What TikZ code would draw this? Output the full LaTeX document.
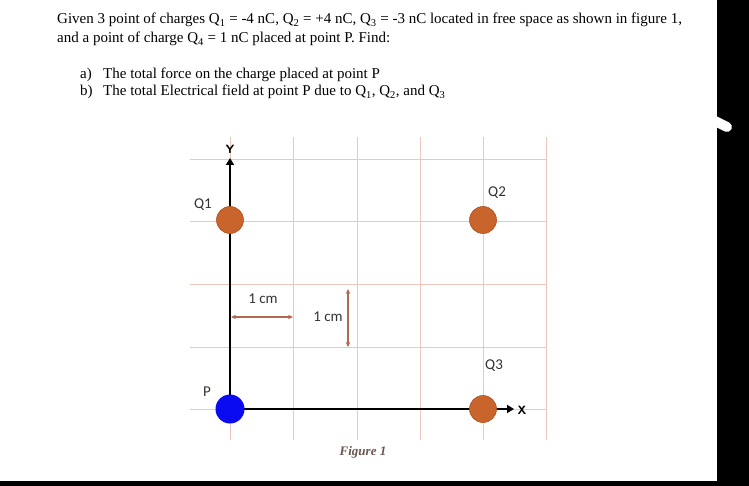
\documentclass[tikz,border=0pt]{standalone}
\usepackage{fontspec}
\setmainfont{Liberation Serif}
\newfontfamily\lblfont{Carlito}
\usetikzlibrary{arrows.meta}
\definecolor{gridc}{HTML}{EDC6BE}
\definecolor{chargec}{HTML}{C8642C}
\definecolor{chargeedge}{HTML}{B0521E}
\definecolor{pblue}{HTML}{0B0BF2}
\definecolor{dimc}{HTML}{B06A50}
\definecolor{figc}{HTML}{6A5650}
\tikzset{
  txt/.style={anchor=base west, inner sep=0pt, font=\fontsize{15}{17}\selectfont},
  gridline/.style={draw=gridc, line width=0.9pt},
  axis/.style={draw=black, line width=2.8pt},
  charge/.style={circle, fill=chargec, draw=chargeedge, line width=0.6pt, minimum size=27pt, inner sep=0pt},
  pcharge/.style={circle, fill=pblue, minimum size=29pt, inner sep=0pt},
  lbl/.style={inner sep=0pt, font=\lblfont\fontsize{15}{17}\selectfont, text=black!80},
  axlbl/.style={inner sep=0pt, font=\sffamily\bfseries\fontsize{12}{14}\selectfont},
  dim/.style={draw=dimc, line width=1.1pt, {Stealth[length=5pt,width=4.5pt]}-{Stealth[length=5pt,width=4.5pt]}}
}
\begin{document}
\begin{tikzpicture}[x=1pt,y=-1pt]
\useasboundingbox (0,0) rectangle (749,486);
\fill[white] (0,0) rectangle (749,486);
% dark frame parts
\fill[black] (717,0) rectangle (749,486);
\fill[black] (0,481) rectangle (749,486);
\draw[white, line width=10pt, line cap=round] (715,121) -- (727,127);

% text
\node[txt] (t1) at (57,24) {Given 3 point of charges Q\textsubscript{1} = -4 nC, Q\textsubscript{2} = +4 nC, Q\textsubscript{3} = -3 nC located in free space as shown in figure 1,};
\node[txt] (t2) at (57,43) {and a point of charge Q\textsubscript{4} = 1 nC placed at point P. Find:};
\node[txt] (ta) at (80,79) {a)};
\node[txt] (tat) at (103,79) {The total force on the charge placed at point P};
\node[txt] (tb) at (80,96) {b)};
\node[txt] (tbt) at (103,96) {The total Electrical field at point P due to Q\textsubscript{1}, Q\textsubscript{2}, and Q\textsubscript{3}};

% grid
\foreach \gx in {230,293,357,420,483,546} {
  \draw[gridline] (\gx,137) -- (\gx,440);
}
\foreach \gy in {159,221,284,347,409} {
  \draw[gridline] (190,\gy) -- (547,\gy);
}

% coordinates
\coordinate (pP) at (230,409);
\coordinate (pQ1) at (230,220);
\coordinate (pQ2) at (483,220);
\coordinate (pQ3) at (483,409);
\coordinate (ytip) at (230,158);
\coordinate (xtip) at (514,409);

% axes
\draw[axis, -{Triangle[length=7pt,width=8pt]}] (pP) -- (ytip);
\draw[axis, -{Triangle[length=7pt,width=8pt]}] (pP) -- (xtip);
\node[axlbl] (ylab) at (230,149) {Y};
\node[axlbl] (xlab) at (522,410) {X};

% charges
\node[charge] (Q1) at (pQ1) {};
\node[charge] (Q2) at (pQ2) {};
\node[charge] (Q3) at (pQ3) {};
\node[pcharge] (P) at (pP) {};
\node[lbl] (q1l) at (203,205) {Q1};
\node[lbl] (q2l) at (497,193) {Q2};
\node[lbl] (q3l) at (494,366) {Q3};
\node[lbl] (pl) at (207,392) {P};

% dimensions
\coordinate (h1) at (231,317);
\coordinate (h2) at (293,317);
\draw[dim] (h1) -- (h2);
\node[lbl] (hl) at (263,299) {1 cm};
\coordinate (v1) at (348,289);
\coordinate (v2) at (348,347);
\draw[dim] (v1) -- (v2);
\node[lbl] (vl) at (328,317) {1 cm};

% caption
\node[inner sep=0pt, text=figc, font=\bfseries\itshape\fontsize{13}{15}\selectfont] (fig) at (363,452) {Figure 1};
\end{tikzpicture}
\end{document}
